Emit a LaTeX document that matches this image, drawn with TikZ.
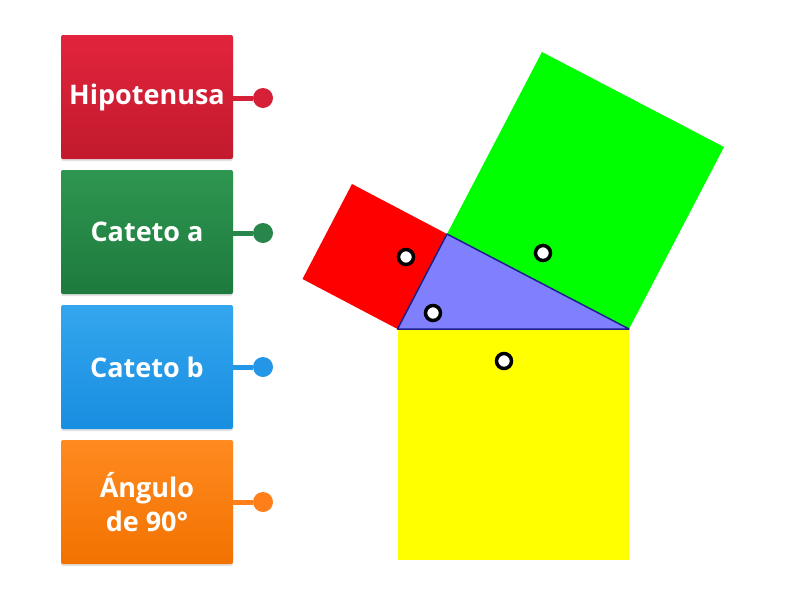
\documentclass[tikz,border=0pt]{standalone}
\usepackage{fontspec}
\setmainfont{Open Sans}
\usetikzlibrary{calc,shadows}
\definecolor{redA}{RGB}{226,36,60}
\definecolor{redB}{RGB}{194,26,46}
\definecolor{redP}{RGB}{214,32,56}
\definecolor{grnA}{RGB}{46,150,80}
\definecolor{grnB}{RGB}{30,122,62}
\definecolor{grnP}{RGB}{40,134,74}
\definecolor{bluA}{RGB}{52,166,238}
\definecolor{bluB}{RGB}{24,142,224}
\definecolor{bluP}{RGB}{36,150,232}
\definecolor{orgA}{RGB}{255,138,32}
\definecolor{orgB}{RGB}{242,114,0}
\definecolor{orgP}{RGB}{255,128,26}
\definecolor{tri}{RGB}{128,128,255}
\definecolor{triedge}{RGB}{30,30,140}
\definecolor{sqY}{RGB}{255,255,0}
\definecolor{sqR}{RGB}{255,0,0}
\definecolor{sqG}{RGB}{0,255,0}
\begin{document}
\begin{tikzpicture}[x=1pt,y=-1pt,
  labelbox/.style={shade, top color=#1A, bottom color=#1B, rounded corners=2pt,
    minimum width=172pt, minimum height=124pt, text=white, align=center,
    font=\fontsize{27}{34}\selectfont\bfseries,
    drop shadow={opacity=0.22, shadow xshift=0pt, shadow yshift=-2pt}},
  pin/.style={circle, fill=#1, minimum size=20pt, inner sep=0pt},
  pinline/.style={draw=#1, line width=5pt},
  spot/.style={circle, draw=black, fill=white, line width=3.5pt, minimum size=15pt, inner sep=0pt}]
\useasboundingbox (0,0) rectangle (800,600);
\fill[white] (0,0) rectangle (800,600);
% geometry
\coordinate (A) at (397.5,329);
\coordinate (B) at (629,329);
\coordinate (C) at (447,234);
\fill[sqY] (A) -- (B) -- ($(B)+(0,231)$) -- ($(A)+(0,231)$) -- cycle;
\fill[sqR] (A) -- (C) -- ($(C)+(-95,-50)$) -- ($(A)+(-95,-50)$) -- cycle;
\fill[sqG] (C) -- (B) -- ($(B)+(95,-182)$) -- ($(C)+(95,-182)$) -- cycle;
\filldraw[fill=tri, draw=triedge, line width=1.5pt, line join=round] (A) -- (B) -- (C) -- cycle;
% spots
\node[spot] (s1) at (406,257) {};
\node[spot] (s2) at (433,313) {};
\node[spot] (s3) at (543,253) {};
\node[spot] (s4) at (504,361) {};
% label boxes
\node[labelbox={red}] (l1) at (147,97) {Hipotenusa};
\node[labelbox={grn}] (l2) at (147,232) {Cateto a};
\node[labelbox={blu}] (l3) at (147,367) {Cateto b};
\node[labelbox={org}] (l4) at (147,502) {Ángulo\\de 90°};
\node[pin=redP] (p1) at (263,98) {};
\node[pin=grnP] (p2) at (263,233) {};
\node[pin=bluP] (p3) at (263,367) {};
\node[pin=orgP] (p4) at (263,502) {};
\draw[pinline=redP] (l1.east |- p1) -- (p1);
\draw[pinline=grnP] (l2.east |- p2) -- (p2);
\draw[pinline=bluP] (l3.east |- p3) -- (p3);
\draw[pinline=orgP] (l4.east |- p4) -- (p4);
\end{tikzpicture}
\end{document}
